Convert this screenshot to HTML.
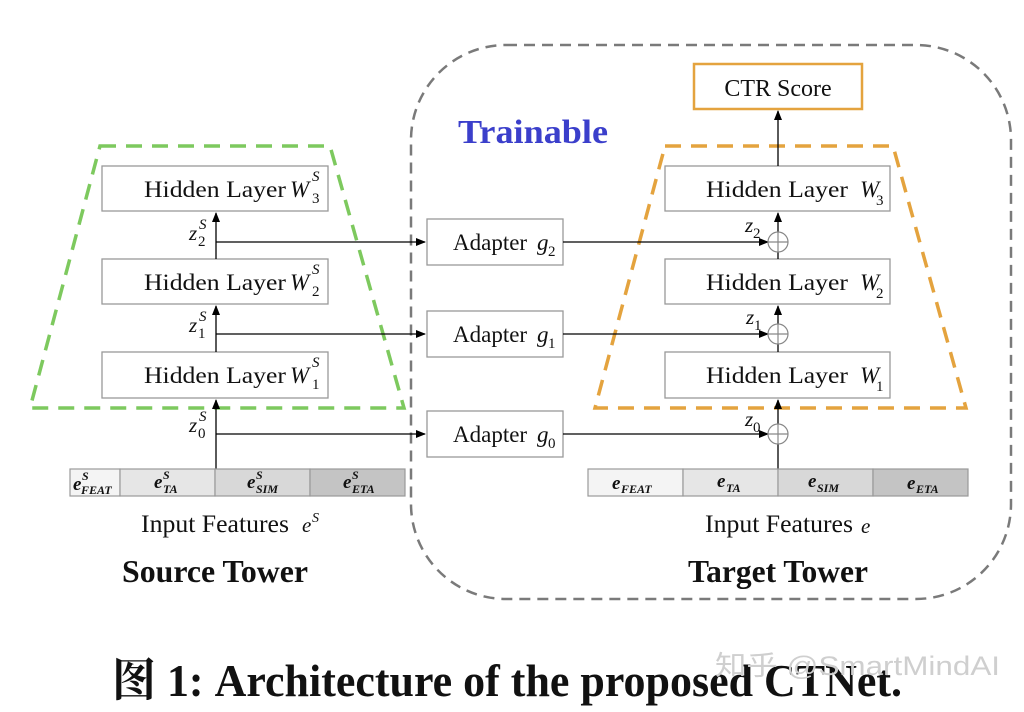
<!DOCTYPE html>
<html><head><meta charset="utf-8"><style>
html,body{margin:0;padding:0;background:#fff;}
svg{display:block;}
text{font-family:"Liberation Serif","Noto Serif CJK SC",serif;fill:#111;}
.it{font-style:italic;}
</style></head><body>
<svg width="1024" height="712" viewBox="0 0 1024 712" xmlns="http://www.w3.org/2000/svg">
<defs>
<marker id="ah" markerWidth="10" markerHeight="8" refX="9" refY="4" orient="auto" markerUnits="userSpaceOnUse">
<path d="M0,0 L10,4 L0,8 z" fill="#000"/></marker>
</defs>
<rect x="411" y="45" width="600" height="554" rx="95" ry="95" fill="none" stroke="#7a7a7a" stroke-width="2.5" stroke-dasharray="11,7"/>
<text x="533" y="143" font-size="34" font-weight="bold" text-anchor="middle" style="fill:#3b3fcb" textLength="150" lengthAdjust="spacingAndGlyphs">Trainable</text>

<polygon points="100,146 330,146 404,408 30,408" fill="none" stroke="#7dc95e" stroke-width="3.5" stroke-dasharray="16,10"/>
<polygon points="665,146 893,146 966,408 595,408" fill="none" stroke="#e4a33e" stroke-width="3.5" stroke-dasharray="16,10"/>

<g fill="#fff" stroke="#999" stroke-width="1.3">
<rect x="102" y="166" width="226" height="45"/>
<rect x="102" y="259" width="226" height="45"/>
<rect x="102" y="352" width="226" height="46"/>
<rect x="665" y="166" width="225" height="45"/>
<rect x="665" y="259" width="225" height="45"/>
<rect x="665" y="352" width="225" height="46"/>
<rect x="427" y="219" width="136" height="46"/>
<rect x="427" y="311" width="136" height="46"/>
<rect x="427" y="411" width="136" height="46"/>
</g>
<rect x="694" y="64" width="168" height="45" fill="#fff" stroke="#e4a33e" stroke-width="2.5"/>
<text x="778" y="96" font-size="24" text-anchor="middle">CTR Score</text>

<g font-size="23">
<text x="144" y="197" textLength="142" lengthAdjust="spacingAndGlyphs">Hidden Layer</text>
<text x="144" y="290" textLength="142" lengthAdjust="spacingAndGlyphs">Hidden Layer</text>
<text x="144" y="383" textLength="142" lengthAdjust="spacingAndGlyphs">Hidden Layer</text>
<text x="706" y="197" textLength="142" lengthAdjust="spacingAndGlyphs">Hidden Layer</text>
<text x="706" y="290" textLength="142" lengthAdjust="spacingAndGlyphs">Hidden Layer</text>
<text x="706" y="383" textLength="142" lengthAdjust="spacingAndGlyphs">Hidden Layer</text>
<g class="it">
<text x="290" y="197">W</text><text x="290" y="290">W</text><text x="290" y="383">W</text>
<text x="860" y="197">W</text><text x="860" y="290">W</text><text x="860" y="383">W</text>
</g>
<text x="453" y="250">Adapter</text>
<text x="453" y="342">Adapter</text>
<text x="453" y="442">Adapter</text>
<g class="it"><text x="537" y="250">g</text><text x="537" y="342">g</text><text x="537" y="442">g</text></g>
</g>
<g font-size="15">
<text x="312" y="181" class="it">S</text><text x="312" y="203">3</text>
<text x="312" y="274" class="it">S</text><text x="312" y="296">2</text>
<text x="312" y="367" class="it">S</text><text x="312" y="389">1</text>
<text x="876" y="205">3</text><text x="876" y="298">2</text><text x="876" y="391">1</text>
<text x="548" y="256">2</text><text x="548" y="348">1</text><text x="548" y="448">0</text>
</g>
<g font-size="21" class="it">
<text x="189" y="240">z</text><text x="189" y="332">z</text><text x="189" y="432">z</text>
<text x="745" y="232">z</text><text x="746" y="324">z</text><text x="745" y="426">z</text>
</g>
<g font-size="15">
<text x="199" y="229" class="it">S</text><text x="198" y="246">2</text>
<text x="199" y="321" class="it">S</text><text x="198" y="338">1</text>
<text x="199" y="421" class="it">S</text><text x="198" y="438">0</text>
<text x="753" y="238">2</text><text x="754" y="330">1</text><text x="753" y="432">0</text>
</g>

<g stroke="#000" stroke-width="1.3" fill="none">
<line x1="216" y1="469" x2="216" y2="400" marker-end="url(#ah)"/>
<line x1="216" y1="352" x2="216" y2="306" marker-end="url(#ah)"/>
<line x1="216" y1="259" x2="216" y2="213" marker-end="url(#ah)"/>
<line x1="216" y1="242" x2="425" y2="242" marker-end="url(#ah)"/>
<line x1="216" y1="334" x2="425" y2="334" marker-end="url(#ah)"/>
<line x1="216" y1="434" x2="425" y2="434" marker-end="url(#ah)"/>
<line x1="563" y1="242" x2="768" y2="242" marker-end="url(#ah)"/>
<line x1="563" y1="334" x2="768" y2="334" marker-end="url(#ah)"/>
<line x1="563" y1="434" x2="768" y2="434" marker-end="url(#ah)"/>
<line x1="778" y1="469" x2="778" y2="400" marker-end="url(#ah)"/>
<line x1="778" y1="352" x2="778" y2="306" marker-end="url(#ah)"/>
<line x1="778" y1="259" x2="778" y2="213" marker-end="url(#ah)"/>
<line x1="778" y1="166" x2="778" y2="111" marker-end="url(#ah)"/>
</g>
<g stroke="#888" stroke-width="1.2" fill="#fff">
<circle cx="778" cy="242" r="10"/><circle cx="778" cy="334" r="10"/><circle cx="778" cy="434" r="10"/>
<path d="M768,242h20M778,232v20M768,334h20M778,324v20M768,434h20M778,424v20" fill="none"/>
</g>

<g stroke="#999" stroke-width="1.2">
<rect x="70" y="469" width="50" height="27" fill="#f4f4f4"/>
<rect x="120" y="469" width="95" height="27" fill="#e6e6e6"/>
<rect x="215" y="469" width="95" height="27" fill="#d8d8d8"/>
<rect x="310" y="469" width="95" height="27" fill="#c4c4c4"/>
<rect x="588" y="469" width="95" height="27" fill="#f4f4f4"/>
<rect x="683" y="469" width="95" height="27" fill="#e6e6e6"/>
<rect x="778" y="469" width="95" height="27" fill="#d8d8d8"/>
<rect x="873" y="469" width="95" height="27" fill="#c4c4c4"/>
</g>
<g font-size="19" class="it" font-weight="bold">
<text x="73" y="490">e</text><text x="154" y="488">e</text><text x="247" y="488">e</text><text x="343" y="488">e</text>
<text x="612" y="489">e</text><text x="717" y="487">e</text><text x="808" y="487">e</text><text x="907" y="489">e</text>
</g>
<g font-size="12" class="it" font-weight="bold">
<text x="82" y="480">S</text><text x="81" y="494">FEAT</text>
<text x="163" y="479">S</text><text x="163" y="493">TA</text>
<text x="256" y="479">S</text><text x="256" y="493">SIM</text>
<text x="352" y="479">S</text><text x="352" y="493">ETA</text>
<text x="621" y="493">FEAT</text><text x="726" y="492">TA</text><text x="817" y="492">SIM</text><text x="916" y="493">ETA</text>
</g>

<text x="141" y="532" font-size="25" textLength="148" lengthAdjust="spacingAndGlyphs">Input Features</text>
<text x="302" y="532" font-size="21" class="it">e</text><text x="312" y="522" font-size="14" class="it">S</text>
<text x="705" y="532" font-size="25" textLength="148" lengthAdjust="spacingAndGlyphs">Input Features</text>
<text x="861" y="533" font-size="21" class="it">e</text>
<text x="122" y="582" font-size="32" font-weight="bold" textLength="186" lengthAdjust="spacingAndGlyphs">Source Tower</text>
<text x="688" y="582" font-size="32" font-weight="bold" textLength="180" lengthAdjust="spacingAndGlyphs">Target Tower</text>

<text x="112" y="696" font-size="46" font-weight="bold" textLength="790" lengthAdjust="spacingAndGlyphs">图 1: Architecture of the proposed CTNet.</text>
<text x="715" y="675" font-size="27" style="fill:#cfcfcf;font-family:'Liberation Sans','Noto Sans CJK SC',sans-serif" textLength="285" lengthAdjust="spacingAndGlyphs">知乎 @SmartMindAI</text>
</svg>
</body></html>
